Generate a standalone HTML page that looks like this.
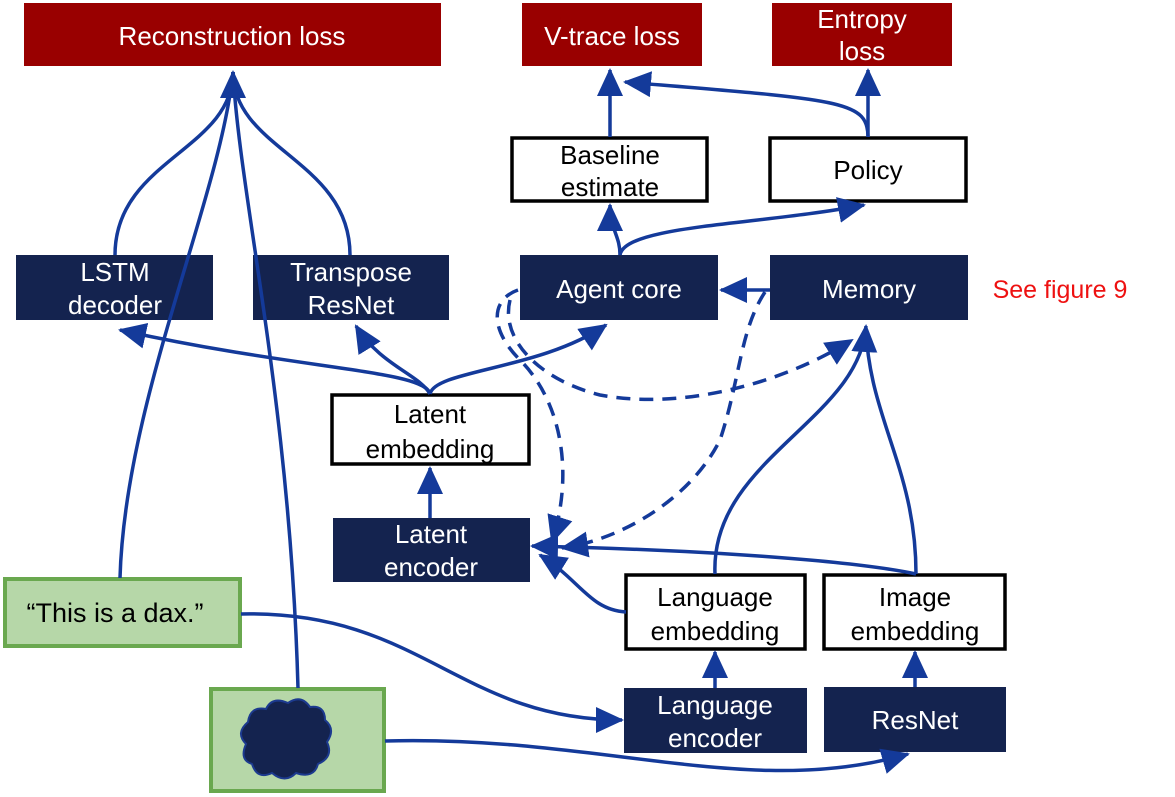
<!DOCTYPE html>
<html><head><meta charset="utf-8"><style>
html,body{margin:0;padding:0;background:#fff;}
svg{display:block;}
text{font-family:"Liberation Sans",sans-serif;font-size:26px;text-anchor:middle;}
.w{fill:#fff}.k{fill:#000}
</style></head><body>
<svg width="1175" height="797" viewBox="0 0 1175 797" xmlns="http://www.w3.org/2000/svg">
<defs>
<marker id="a" markerUnits="userSpaceOnUse" markerWidth="34" markerHeight="34" refX="26" refY="13" orient="auto">
<path d="M0,0 L28,13 L0,26 Z" fill="#143a9a"/>
</marker>
</defs>
<rect x="24" y="3" width="417" height="63" fill="#990000"/>
<text x="232" y="45" class="w">Reconstruction loss</text>
<rect x="522" y="3" width="180" height="63" fill="#990000"/>
<text x="612" y="45" class="w">V-trace loss</text>
<rect x="772" y="3" width="180" height="63" fill="#990000"/>
<text x="862" y="28" class="w">Entropy</text>
<text x="862" y="60" class="w">loss</text>
<g fill="#fff" stroke="#000" stroke-width="3.5">
<rect x="512" y="138" width="195" height="63"/>
<rect x="770" y="138" width="196" height="63"/>
<rect x="332" y="395" width="197" height="69"/>
<rect x="626" y="575" width="179" height="74"/>
<rect x="824" y="575" width="181" height="74"/>
</g>
<text x="610" y="164" class="k">Baseline</text>
<text x="610" y="196" class="k">estimate</text>
<text x="868" y="179" class="k">Policy</text>
<text x="430" y="423" class="k">Latent</text>
<text x="430" y="458" class="k">embedding</text>
<text x="715" y="606" class="k">Language</text>
<text x="715" y="640" class="k">embedding</text>
<text x="915" y="606" class="k">Image</text>
<text x="915" y="640" class="k">embedding</text>
<g fill="#14234f">
<rect x="16" y="255" width="197" height="65"/>
<rect x="253" y="255" width="196" height="65"/>
<rect x="520" y="255" width="198" height="65"/>
<rect x="770" y="255" width="198" height="65"/>
<rect x="333" y="518" width="197" height="64"/>
<rect x="624" y="688" width="183" height="65"/>
<rect x="824" y="687" width="182" height="65"/>
</g>
<text x="115" y="281" class="w">LSTM</text>
<text x="115" y="314" class="w">decoder</text>
<text x="351" y="281" class="w">Transpose</text>
<text x="351" y="314" class="w">ResNet</text>
<text x="619" y="298" class="w">Agent core</text>
<text x="869" y="298" class="w">Memory</text>
<text x="431" y="543" class="w">Latent</text>
<text x="431" y="576" class="w">encoder</text>
<text x="715" y="714" class="w">Language</text>
<text x="715" y="747" class="w">encoder</text>
<text x="915" y="729" class="w">ResNet</text>
<text x="1060" y="298" style="fill:#ee1111;font-size:25px">See figure 9</text>
<rect x="5" y="579" width="235" height="67" fill="#b6d7a8" stroke="#6aa84f" stroke-width="4"/>
<text x="115" y="622" class="k" style="font-size:27px">“This is a dax.”</text>
<rect x="211" y="689" width="173" height="102" fill="#b6d7a8" stroke="#6aa84f" stroke-width="4"/>
<path d="M248,722 q2,-16 18,-13 q6,-13 22,-6 q13,-9 22,4 q15,-2 15,13 q11,9 2,22 q7,15 -9,22 q-4,15 -22,9 q-11,11 -24,0 q-15,7 -20,-9 q-13,-4 -6,-20 q-11,-11 2,-22 Z" fill="#14234f" stroke="#1c3a8f" stroke-width="2"/>
<g fill="none" stroke="#143a9a" stroke-width="3.5">
<path d="M115,255 C115,160 233,150 233,72" marker-end="url(#a)"/>
<path d="M350,255 C350,160 233,150 233,72"/>
<path d="M120,578 C125,400 220,200 233,72"/>
<path d="M298,688 C290,400 240,200 233,72"/>
<path d="M610,137 L610,70" marker-end="url(#a)"/>
<path d="M868,137 C868,100 840,100 625,82" marker-end="url(#a)"/>
<path d="M868,137 L868,70" marker-end="url(#a)"/>
<path d="M620,255 C620,235 610,230 610,205" marker-end="url(#a)"/>
<path d="M620,255 C625,225 760,225 864,205" marker-end="url(#a)"/>
<path d="M430,394 C425,370 300,370 120,330" marker-end="url(#a)"/>
<path d="M430,394 C420,375 380,365 356,326" marker-end="url(#a)"/>
<path d="M430,394 C435,370 540,370 606,325" marker-end="url(#a)"/>
<path d="M430,518 L430,468" marker-end="url(#a)"/>
<path d="M770,290 L721,290" marker-end="url(#a)"/>
<path d="M715,574 C710,460 860,420 866,326" marker-end="url(#a)"/>
<path d="M916,574 C916,470 870,420 866,330"/>
<path d="M916,574 C850,560 700,550 532,546" marker-end="url(#a)"/>
<path d="M626,612 C590,610 580,580 540,555" marker-end="url(#a)"/>
<path d="M715,688 L715,652" marker-end="url(#a)"/>
<path d="M915,687 L915,652" marker-end="url(#a)"/>
<path d="M241,614 C420,610 460,720 622,720" marker-end="url(#a)"/>
<path d="M385,741 C600,735 750,800 908,754" marker-end="url(#a)"/>
</g>
<g fill="none" stroke="#143a9a" stroke-width="3.5" stroke-dasharray="14,9">
<path d="M518,290 C490,300 490,330 520,360 C560,400 575,470 552,542" marker-end="url(#a)"/>
<path d="M510,300 C500,340 540,380 600,395 C680,410 780,385 852,340" marker-end="url(#a)"/>
<path d="M765,292 C740,330 740,380 720,440 C690,500 620,540 562,548" marker-end="url(#a)"/>
</g>
</svg>
</body></html>
